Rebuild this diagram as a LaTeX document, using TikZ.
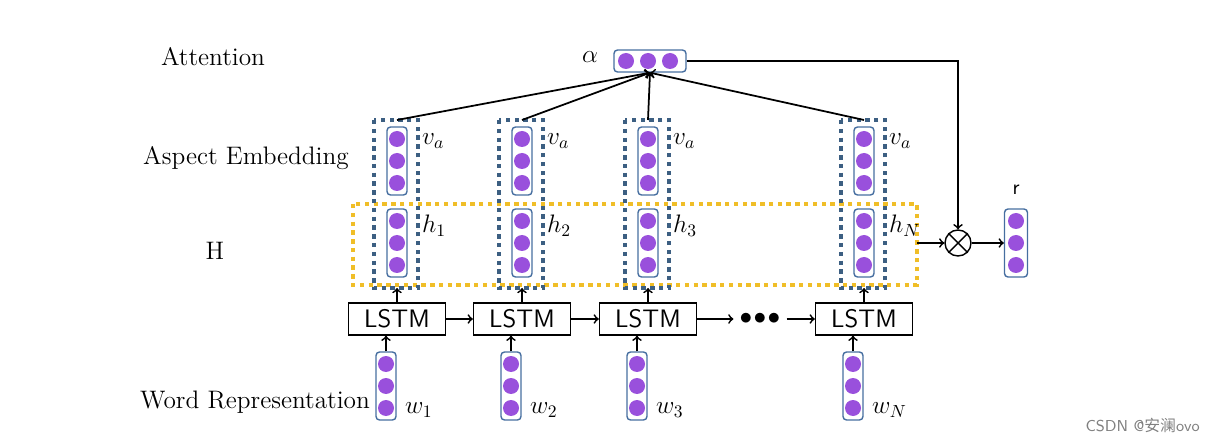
\documentclass[tikz,border=0pt]{standalone}
\usepackage{fontspec}
\newfontfamily\cjk{Noto Sans CJK SC}
\usetikzlibrary{positioning,arrows}
\definecolor{dotpurple}{RGB}{153,80,220}
\definecolor{boxblue}{RGB}{70,110,160}
\definecolor{dashblue}{RGB}{60,95,130}
\definecolor{dashyellow}{RGB}{240,190,40}
\newlength{\pu}\setlength{\pu}{0.02cm}

\tikzset{
	vec/.style={draw=boxblue, thick, rounded corners=2pt, minimum width=20\pu, minimum height=68\pu, inner sep=0pt},
	hvec/.style={draw=boxblue, thick, rounded corners=2pt, minimum width=72\pu, minimum height=22\pu, inner sep=0pt},
	lstm/.style={draw, thick, minimum width=97\pu, minimum height=32\pu, inner sep=0pt, font=\sffamily\Large},
	arr/.style={->, >=to, line width=1pt},
}
\newcommand{\threedots}[2]{%
	\foreach \d in {-22,0,22} \fill[dotpurple] (#1,#2+\d) circle (8);}

\begin{document}
\begin{tikzpicture}[x=0.02cm, y=-0.02cm]
		\useasboundingbox (0,0) rectangle (1214,442);

		% row labels
		\node at (213,57) {\Large Attention};
		\node at (246,158) {\Large Aspect Embedding};
		\node at (215,251) {\Large H};
		\node at (255,402) {\Large Word Representation};

		% attention vector
		\node[hvec] (alpha) at (650,61) {};
		\foreach \x in {626,648,670} \fill[dotpurple] (\x,61) circle (8);
		\node at (590,57) {\Large$\alpha$};

		% yellow H box
		\draw[dashyellow, line width=1.8pt, dash pattern=on 2.5pt off 2.5pt] (353,204) rectangle (917,285);

		% columns
		\foreach \x/\i [count=\k] in {397/1,522/2,648/3,864/N} {
			\node[vec] (v\k) at (\x,161) {};
			\threedots{\x}{161}
			\node[vec] (h\k) at (\x,243) {};
			\threedots{\x}{243}
			\node[vec] (w\k) at (\x-11,386) {};
			\threedots{\x-11}{386}
			\node[lstm] (l\k) at (\x,319) {LSTM};
			\draw[dashblue, line width=1.8pt, dash pattern=on 2.5pt off 2.5pt] (\x-23,120) rectangle (\x+21,288);
			\coordinate (t\k) at (\x,120);
			\node[anchor=west] at (\x+19,141) {\Large $v_a$};
			\node[anchor=west] at (\x+19,226) {\Large $h_{\i}$};
			\node[anchor=west] at (\x+2,410) {\Large $w_{\i}$};
			\draw[arr] (w\k) -- (w\k.north |- l\k.south);
			\draw[arr] (l\k.north) -- (\x,288);
			\draw[arr] (t\k) -- (alpha.south);
		}

		% recurrent chain
		\draw[arr] (l1) -- (l2);
		\draw[arr] (l2) -- (l3);
		\node (dots) at (760,319) {\Large$\bullet\!\bullet\!\bullet$};
		\draw[arr] (l3) -- (dots);
		\draw[arr] (dots) -- (l4);

		% combination
		\node[draw, thick, circle, minimum size=26\pu, inner sep=0pt] (otimes) at (958,243) {};
		\draw[thick] (otimes.north west) -- (otimes.south east) (otimes.north east) -- (otimes.south west);
		\draw[arr] (alpha.east) -- (958,61) -- (otimes.north);
		\draw[arr] (917,243) -- (otimes.west);
		\node[vec, minimum width=23\pu] (r) at (1016,243) {};
		\threedots{1016}{243}
		\node at (1016,190) {\sffamily\large r};
		\draw[arr] (otimes.east) -- (r.west);

		% watermark
		\node[gray, font=\sffamily\small, anchor=east] at (1206,425) {CSDN @{\cjk 安澜}ovo};
\end{tikzpicture}
\end{document}
